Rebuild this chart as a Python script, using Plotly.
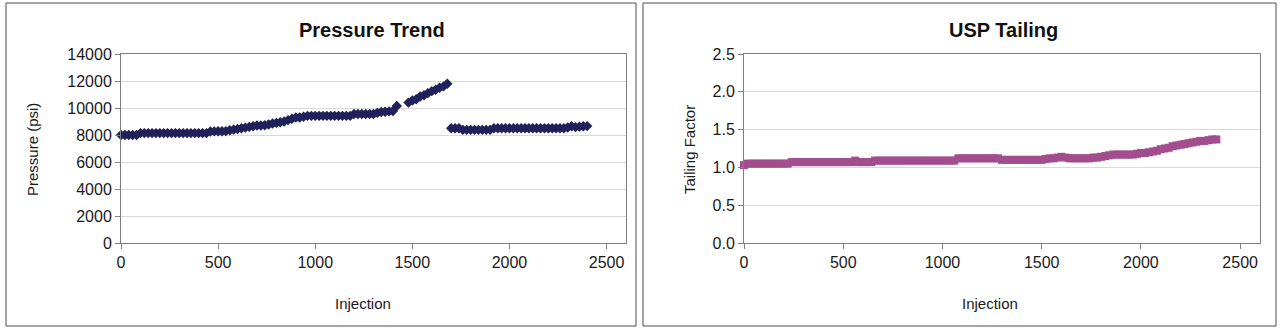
import plotly.graph_objects as go

# ---------------- data ----------------
pressure_x = list(range(0, 1700, 20)) + list(range(1700, 2420, 20))
pressure_y = (
    [8000, 8000, 8000, 8000, 8000]                                   # 0-80
    + [8140] * 18                                                    # 100-440
    + [8260, 8270, 8280, 8280, 8290]                                 # 460-540
    + [8350, 8400, 8450, 8500, 8550, 8600, 8650, 8700, 8700, 8720,
       8780, 8850, 8900, 8950, 9000, 9100, 9200, 9300, 9300, 9350]   # 560-940
    + [9420] * 12                                                    # 960-1180
    + [9550] * 6                                                     # 1200-1300
    + [9650, 9700, 9720, 9750, 9780, 10150, None, None,
       10400, 10550, 10650, 10850, 10950, 11100, 11250, 11350,
       11500, 11600, 11800]                                          # 1320-1680
    + [8500, 8500, 8500]                                             # 1700-1740
    + [8380] * 8                                                     # 1760-1900
    + [8500] * 19                                                    # 1920-2280
    + [8560, 8650, 8580, 8620, 8650, 8660]                           # 2300-2400
)

tailing_x = list(range(0, 2400, 20))
tailing_y = (
    [1.03]
    + [1.05] * 11
    + [1.07] * 16
    + [1.09]
    + [1.07] * 4
    + [1.09] * 21
    + [1.12] * 11
    + [1.10] * 11
    + [1.11, 1.12, 1.12, 1.13, 1.14, 1.13]
    + [1.12] * 6
    + [1.13, 1.13, 1.14, 1.15, 1.16]
    + [1.17] * 6
    + [1.18, 1.19, 1.19, 1.20, 1.21, 1.22, 1.24, 1.25, 1.26, 1.28,
       1.29, 1.30, 1.31, 1.32, 1.33, 1.34, 1.35, 1.35, 1.36, 1.37, 1.37]
)

titles = ["Pressure Trend", "USP Tailing"]
y_titles = ["Pressure (psi)", "Tailing Factor"]
x_title = "Injection"

# ---------------- figure ----------------
W, H = 1280, 332
FONT = "Liberation Sans, Arial, sans-serif"

def px_x(p):
    return p / W

def px_y(p):
    return (H - p) / H

fig = go.Figure()
fig.add_trace(go.Scatter(
    x=pressure_x, y=pressure_y, mode="markers",
    marker=dict(symbol="diamond", size=8, color="#20205a"),
    cliponaxis=False, xaxis="x", yaxis="y", showlegend=False))
fig.add_trace(go.Scatter(
    x=tailing_x, y=tailing_y, mode="markers",
    marker=dict(symbol="square", size=8, color="#a24d8e"),
    cliponaxis=False, xaxis="x2", yaxis="y2", showlegend=False))

ydom = [px_y(243), px_y(54)]
axis_common = dict(
    showline=True, linecolor="#7f7f7f", linewidth=1, mirror=True,
    ticks="outside", ticklen=5, tickcolor="#7f7f7f",
    tickfont=dict(family=FONT, size=16, color="#1a1a1a"),
    zeroline=False, automargin=False,
)

fig.update_layout(
    width=W, height=H, autosize=False,
    margin=dict(l=0, r=0, t=0, b=0, pad=0, autoexpand=False),
    paper_bgcolor="white", plot_bgcolor="white",
    xaxis=dict(domain=[px_x(121), px_x(626)], range=[0, 2600], dtick=500,
               tickformat="d", showgrid=False, anchor="y", **axis_common),
    yaxis=dict(domain=ydom, range=[0, 14000], dtick=2000, tickformat="d",
               showgrid=True, gridcolor="#d9d9d9", anchor="x", **axis_common),
    xaxis2=dict(domain=[px_x(744), px_x(1260)], range=[0, 2600], dtick=500,
                tickformat="d", showgrid=False, anchor="y2", **axis_common),
    yaxis2=dict(domain=ydom, range=[0, 2.5], dtick=0.5, tickformat=".1f",
                showgrid=True, gridcolor="#d9d9d9", anchor="x2", **axis_common),
)

def ann(text, x, y, size, angle=0, color="#1a1a1a"):
    return dict(text=text, x=px_x(x), y=px_y(y), xref="paper", yref="paper",
                xanchor="center", yanchor="middle", showarrow=False,
                textangle=angle, font=dict(family=FONT, size=size, color=color))

annotations = [
    ann("<b>%s</b>" % titles[0], 372, 30, 20, color="#111"),
    ann("<b>%s</b>" % titles[1], 1003, 30, 20, color="#111"),
    ann(y_titles[0], 33, 150, 15, angle=-90),
    ann(y_titles[1], 690, 150, 15, angle=-90),
    ann(x_title, 363, 303, 15),
    ann(x_title, 990, 303, 15),
]
fig.update_layout(annotations=annotations)

shapes = [
    dict(type="rect", xref="paper", yref="paper",
         x0=px_x(6), x1=px_x(636), y0=px_y(326), y1=px_y(3),
         line=dict(color="#4d4d4d", width=1)),
    dict(type="rect", xref="paper", yref="paper",
         x0=px_x(643), x1=px_x(1276), y0=px_y(326), y1=px_y(3),
         line=dict(color="#4d4d4d", width=1)),
]
fig.update_layout(shapes=shapes)

fig.write_html("out.html")
